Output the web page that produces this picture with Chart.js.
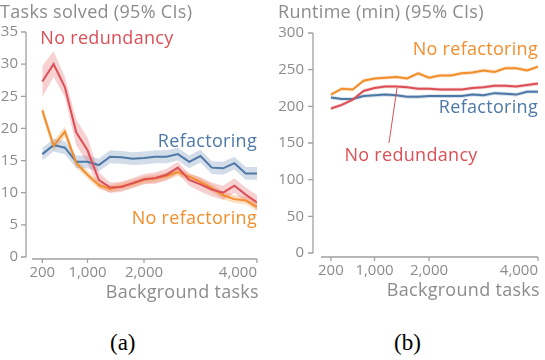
<!DOCTYPE html>
<html>
<head>
<meta charset="utf-8">
<script src="https://cdn.jsdelivr.net/npm/chart.js@4.4.1/dist/chart.umd.min.js"></script>
<style>
  body { margin: 0; background: #fff; }
  #wrap { position: relative; width: 545px; height: 360px; overflow: hidden; }
  .panel { position: absolute; top: 0; height: 310px; }
  .cap { position: absolute; top: 330px; font: 23px "Liberation Serif", serif; color: #000; }
</style>
</head>
<body>
<div id="wrap">
  <div class="panel" style="left:0;width:272px"><canvas id="chartA"></canvas></div>
  <div class="panel" style="left:278px;width:267px"><canvas id="chartB"></canvas></div>
  <div class="cap" style="left:110px">(a)</div>
  <div class="cap" style="left:394px">(b)</div>
</div>
<script>
// background tasks (x)
var tasks = [200, 400, 600, 800, 1000, 1200, 1400, 1600, 1800, 2000,
             2200, 2400, 2600, 2800, 3000, 3200, 3400, 3600, 3800, 4000];
var xTicks = [200, 1000, 2000, 4000];

// (a) tasks solved
var noRedundancyA = [27.3, 30.0, 26.4, 19.4, 16.6, 12.0, 10.8, 10.9, 11.5, 12.1,
                     12.3, 12.8, 13.9, 12.0, 11.3, 10.5, 10.0, 11.1, 9.7, 8.5];
var refactoringA  = [16.0, 17.4, 17.0, 14.8, 14.8, 14.3, 15.6, 15.5, 15.3, 15.4,
                     15.6, 15.6, 16.0, 14.8, 15.7, 13.9, 13.8, 14.6, 13.0, 13.0];
var noRefactorA   = [22.8, 17.3, 19.5, 14.6, 12.8, 11.2, 10.6, 11.0, 11.4, 12.0,
                     12.2, 12.6, 13.2, 12.5, 11.7, 10.7, 9.6, 9.0, 8.8, 7.8];
var noRedundancyCiA = [2.4, 2.0, 1.6, 2.0, 2.0, 1.2, 0.8, 0.8, 0.8, 0.8,
                       0.9, 0.9, 0.9, 0.9, 1.1, 1.1, 1.1, 1.1, 1.1, 1.1];
var refactoringCiA  = [1.0, 1.0, 1.0, 1.0, 1.0, 1.0, 1.0, 1.0, 1.0, 1.0,
                       1.0, 1.0, 1.0, 1.0, 1.0, 1.0, 1.0, 1.0, 1.0, 1.0];
var noRefactorCiA   = [0.9, 0.8, 0.8, 0.7, 0.6, 0.6, 0.6, 0.6, 0.6, 0.6,
                       0.6, 0.6, 0.6, 0.6, 0.6, 0.6, 0.6, 0.6, 0.6, 0.6];

// (b) runtime (min)
var noRedundancyB = [197, 202, 209, 221, 225, 227, 227, 226, 224, 224,
                     223, 223, 223, 225, 226, 228, 228, 227, 229, 231];
var refactoringB  = [212, 210, 210, 214, 215, 216, 215, 213, 213, 214,
                     214, 214, 214, 216, 215, 218, 217, 216, 220, 220];
var noRefactorB   = [216, 224, 223, 235, 238, 239, 240, 238, 245, 239,
                     242, 242, 245, 246, 249, 247, 252, 252, 249, 254];
var ciB = [2.5, 2.5, 2.5, 2.5, 2.5, 2.5, 2.5, 2.5, 2.5, 2.5,
           2.5, 2.5, 2.5, 2.5, 2.5, 2.5, 2.5, 2.5, 2.5, 2.5];

var RED = "#dc4f57", BLUE = "#4e79a7", ORANGE = "#f28e2b";
var GREY = "#8c8c8c", AXIS = "#a0a0a0";
var FONT = '"Open Sans", sans-serif';

function pts(vals, ci, sign) {
  return tasks.map(function (t, i) {
    return { x: t, y: ci ? vals[i] + sign * ci[i] : vals[i] };
  });
}

function series(vals, ci, color, band) {
  return [
    { data: pts(vals, ci, -1), borderWidth: 0, pointRadius: 0, fill: false, order: 10 },
    { data: pts(vals, ci, 1), borderWidth: 0, pointRadius: 0, fill: "-1", backgroundColor: band, order: 10 },
  ];
}

function line(vals, color, order) {
  return { data: pts(vals), borderColor: color, borderWidth: 2, pointRadius: 0, fill: false, tension: 0, order: order };
}

// spines offset from the plot area, custom x tick labels, titles and notes
var decor = {
  id: "decor",
  afterDraw: function (chart, args, o) {
    var ctx = chart.ctx, a = chart.chartArea, x = chart.scales.x, y = chart.scales.y;
    ctx.save();
    ctx.strokeStyle = AXIS;
    ctx.lineWidth = 1.3;
    ctx.beginPath();
    var sx = a.left - o.yOff;
    ctx.moveTo(sx, y.getPixelForValue(y.max));
    ctx.lineTo(sx, y.getPixelForValue(0));
    y.ticks.forEach(function (t) {
      var py = y.getPixelForValue(t.value);
      ctx.moveTo(sx, py);
      ctx.lineTo(sx - 5, py);
    });
    var sy = a.bottom + o.xOff;
    ctx.moveTo(a.left + 1, sy);
    ctx.lineTo(a.right, sy);
    xTicks.forEach(function (t) {
      var px = x.getPixelForValue(t);
      ctx.moveTo(px, sy);
      ctx.lineTo(px, sy + 4);
    });
    ctx.stroke();

    ctx.fillStyle = GREY;
    ctx.font = "15px " + FONT;
    ctx.textBaseline = "middle";
    xTicks.forEach(function (t, i) {
      var px = x.getPixelForValue(t);
      ctx.textAlign = i === xTicks.length - 1 ? "right" : "center";
      ctx.fillText(t.toLocaleString("en-US"), px, sy + 14);
    });

    ctx.font = "18px " + FONT;
    ctx.letterSpacing = "0.3px";
    ctx.textAlign = "left";
    ctx.fillText(o.title, 0, 13);
    ctx.textAlign = "right";
    ctx.fillText("Background tasks", a.right + 2, sy + 34);

    o.notes.forEach(function (n) {
      ctx.fillStyle = n.color;
      ctx.textAlign = n.align;
      ctx.fillText(n.text, x.getPixelForValue(n.x), y.getPixelForValue(n.y));
    });
    if (o.pointer) {
      ctx.strokeStyle = RED;
      ctx.lineWidth = 1;
      ctx.beginPath();
      ctx.moveTo(x.getPixelForValue(o.pointer[0]), y.getPixelForValue(o.pointer[1]));
      ctx.lineTo(x.getPixelForValue(o.pointer[2]), y.getPixelForValue(o.pointer[3]));
      ctx.stroke();
    }
    ctx.restore();
  },
};

function makeChart(id, cfg) {
  return new Chart(document.getElementById(id), {
    type: "line",
    data: {
      datasets: [].concat(
        series(cfg.red, cfg.redCi, RED, "rgba(225, 87, 89, 0.28)"),
        series(cfg.blue, cfg.blueCi, BLUE, "rgba(78, 121, 167, 0.25)"),
        series(cfg.orange, cfg.orangeCi, ORANGE, "rgba(242, 142, 43, 0.28)"),
        [line(cfg.red, RED, 0), line(cfg.orange, ORANGE, 1), line(cfg.blue, BLUE, 2)]
      ),
    },
    options: {
      responsive: true,
      maintainAspectRatio: false,
      animation: false,
      layout: { padding: cfg.padding },
      scales: {
        x: {
          type: "linear",
          min: 0,
          max: 4000,
          grid: { display: false },
          border: { display: false },
          ticks: { display: false },
          afterFit: function (s) { s.height = 40; },
        },
        y: {
          min: 0,
          max: cfg.yMax,
          grid: { display: false },
          border: { display: false },
          ticks: { stepSize: cfg.yStep, color: GREY, padding: cfg.tickPad, font: { family: FONT, size: 15 } },
          afterFit: function (s) { s.width = cfg.yWidth; },
        },
      },
      plugins: {
        legend: { display: false },
        tooltip: { enabled: false },
        decor: cfg.decor,
      },
    },
    plugins: [decor],
  });
}

makeChart("chartA", {
  red: noRedundancyA, blue: refactoringA, orange: noRefactorA,
  redCi: noRedundancyCiA, blueCi: refactoringCiA, orangeCi: noRefactorCiA,
  yMax: 35, yStep: 5, yWidth: 31, tickPad: 5,
  padding: { top: 32, right: 15, bottom: 13, left: 0 },
  decor: {
    yOff: 5, xOff: 2, title: "Tasks solved (95% CIs)",
    notes: [
      { text: "No redundancy", x: 165, y: 34, color: RED, align: "left" },
      { text: "Refactoring", x: 4000, y: 17.9, color: BLUE, align: "right" },
      { text: "No refactoring", x: 4000, y: 5.9, color: ORANGE, align: "right" },
    ],
  },
});

makeChart("chartB", {
  red: noRedundancyB, blue: refactoringB, orange: noRefactorB,
  redCi: ciB, blueCi: ciB, orangeCi: ciB,
  yMax: 300, yStep: 50, yWidth: 42, tickPad: 8,
  padding: { top: 33, right: 7, bottom: 17, left: 0 },
  decor: {
    yOff: 7, xOff: 4, title: "Runtime (min) (95% CIs)",
    notes: [
      { text: "No refactoring", x: 4000, y: 277, color: ORANGE, align: "right" },
      { text: "Refactoring", x: 4000, y: 198, color: BLUE, align: "right" },
      { text: "No redundancy", x: 1670, y: 132, color: RED, align: "center" },
    ],
    pointer: [1413, 225, 1266, 150],
  },
});
</script>
</body>
</html>
